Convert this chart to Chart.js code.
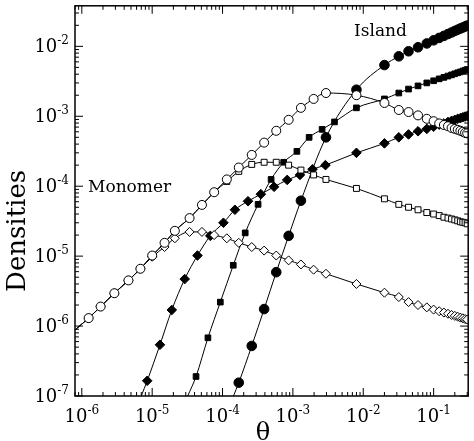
<!DOCTYPE html>
<html><head><meta charset="utf-8">
<script src="https://cdn.jsdelivr.net/npm/chart.js@4"></script>
<style>html,body{margin:0;padding:0;background:#fff}#w{width:474px;height:441px}</style>
</head><body><div id="w"><canvas id="c"></canvas></div>
<script>
const thetaLate=[8e-3,0.02,0.032,0.044,0.06,0.08,0.10,0.12,0.14,0.16,0.18,0.20,0.22,0.24,0.26,0.28,0.30];
const thetaMono=[8.2e-7,1.25e-6,1.85e-6,2.9e-6,4.6e-6,6.8e-6,1.0e-5,1.5e-5,2.1e-5,3.4e-5,5.1e-5,7.6e-5,1.15e-4,1.7e-4,2.6e-4,3.9e-4,5.8e-4,8.7e-4,1.3e-3,1.97e-3,2.95e-3];
const monoCircle=[9e-7,1.3e-6,1.9e-6,2.95e-6,4.5e-6,6.6e-6,1.02e-5,1.55e-5,2.3e-5,3.5e-5,5.4e-5,8.2e-5,1.25e-4,1.85e-4,2.8e-4,4.2e-4,6.2e-4,8.9e-4,1.32e-3,1.77e-3,2.15e-3,
 2.0e-3,1.55e-3,1.23e-3,1.15e-3,1.03e-3,9.2e-4,8.5e-4,7.9e-4,7.5e-4,7.2e-4,6.8e-4,6.6e-4,6.4e-4,6.2e-4,6.0e-4,5.8e-4,5.7e-4];
const monoSquare=[9e-7,1.3e-6,1.9e-6,2.95e-6,4.5e-6,6.6e-6,1.02e-5,1.55e-5,2.3e-5,3.5e-5,5.4e-5,8.2e-5,1.17e-4,1.63e-4,2.05e-4,2.2e-4,2.2e-4,2.0e-4,1.7e-4,1.45e-4,1.25e-4,
 9.3e-5,6.6e-5,5.5e-5,5.0e-5,4.6e-5,4.2e-5,4.0e-5,3.8e-5,3.6e-5,3.5e-5,3.4e-5,3.3e-5,3.2e-5,3.1e-5,3.05e-5,3.0e-5,2.9e-5];
const monoDiamond=[9e-7,1.3e-6,1.9e-6,2.95e-6,4.5e-6,6.6e-6,9.8e-6,1.35e-5,1.8e-5,2.22e-5,2.22e-5,2.0e-5,1.8e-5,1.55e-5,1.35e-5,1.2e-5,1.02e-5,8.7e-6,7.6e-6,6.4e-6,5.6e-6,
 4.0e-6,3.0e-6,2.6e-6,2.2e-6,2.0e-6,1.85e-6,1.72e-6,1.63e-6,1.56e-6,1.5e-6,1.44e-6,1.4e-6,1.36e-6,1.32e-6,1.29e-6,1.26e-6,1.24e-6];
const thetaIslCircle=[1.43e-4,1.7e-4,2.6e-4,3.9e-4,5.8e-4,8.7e-4,1.3e-3,2.95e-3];
const islCircle=[1e-7,1.55e-7,5.2e-7,1.75e-6,5.9e-6,1.95e-5,6.2e-5,5.0e-4,
 2.4e-3,5.4e-3,7.2e-3,8.5e-3,9.7e-3,1.1e-2,1.22e-2,1.32e-2,1.41e-2,1.5e-2,1.58e-2,1.66e-2,1.73e-2,1.8e-2,1.86e-2,1.92e-2,1.98e-2];
const thetaIslSquare=[3.2e-5,4.2e-5,6.2e-5,9.3e-5,1.42e-4,2.1e-4,3.2e-4,4.9e-4,7.4e-4,1.14e-3,1.7e-3,2.6e-3,3.9e-3];
const islSquare=[1e-7,1.9e-7,6.8e-7,2.2e-6,7.4e-6,2.15e-5,5.5e-5,1.25e-4,2.2e-4,3.15e-4,5.0e-4,6.5e-4,8.3e-4,
 1.32e-3,1.77e-3,2.15e-3,2.45e-3,2.72e-3,3.0e-3,3.22e-3,3.43e-3,3.6e-3,3.76e-3,3.91e-3,4.05e-3,4.19e-3,4.31e-3,4.43e-3,4.55e-3,4.66e-3];
const thetaIslDiamond=[7.0e-6,8.5e-6,1.29e-5,1.9e-5,2.9e-5,4.4e-5,6.7e-5,1.03e-4,1.5e-4,2.3e-4,3.5e-4,5.4e-4,8.3e-4,1.26e-3,1.9e-3,2.9e-3];
const islDiamond=[1e-7,1.65e-7,5.4e-7,1.7e-6,4.7e-6,1.02e-5,1.95e-5,3.0e-5,4.6e-5,6.1e-5,7.7e-5,9.8e-5,1.23e-4,1.45e-4,1.75e-4,2.0e-4,
 3.0e-4,4.1e-4,5.0e-4,5.5e-4,6.1e-4,6.6e-4,7.1e-4,7.6e-4,7.9e-4,8.3e-4,8.6e-4,8.9e-4,9.2e-4,9.4e-4,9.7e-4,9.9e-4,1.01e-3];
const xTickExp=[-6,-5,-4,-3,-2,-1];
const yTickExp=[-7,-6,-5,-4,-3,-2];

function pts(th,v){return th.concat(thetaLate).map((t,i)=>({x:t,y:v[i]}));}
function ds(th,v,style,r,fill){
  return {data:pts(th,v),pointStyle:style,borderColor:'#000',borderWidth:1,
    pointBackgroundColor:fill,pointBorderColor:'#000',pointBorderWidth:1,
    pointRadius:c=>(c.raw&&(c.raw.y<=1.0001e-7||c.raw.x<1e-6))?0:r,
    cubicInterpolationMode:'monotone',fill:false};
}
const F="'DejaVu Serif', serif";
const deco={id:'deco',afterDraw(ch){
  const {ctx,chartArea:a,scales:{x,y}}=ch;
  ctx.save();ctx.strokeStyle='#000';ctx.lineWidth=1.5;
  ctx.strokeRect(a.left,a.top,a.right-a.left,a.bottom-a.top);
  ctx.lineWidth=1;
  for(let e=-7;e<=0;e++)for(let m=1;m<10;m++){
    const v=m*Math.pow(10,e),L=m===1?8:4;
    if(v>=x.min&&v<=x.max){const p=x.getPixelForValue(v);
      ctx.beginPath();ctx.moveTo(p,a.bottom);ctx.lineTo(p,a.bottom-L);ctx.moveTo(p,a.top);ctx.lineTo(p,a.top+L);ctx.stroke();}
    if(v>=y.min&&v<=y.max){const p=y.getPixelForValue(v);
      ctx.beginPath();ctx.moveTo(a.left,p);ctx.lineTo(a.left+L,p);ctx.moveTo(a.right,p);ctx.lineTo(a.right-L,p);ctx.stroke();}
  }
  ctx.fillStyle='#000';ctx.textBaseline='alphabetic';
  function lab(e,cx,by,align){
    ctx.font='18px '+F;const w1=ctx.measureText('10').width;
    ctx.font='12px '+F;const s='-'+Math.abs(e);const w2=ctx.measureText(s).width;
    let x0=align==='right'?cx-w1-w2:cx-(w1+w2)/2;
    ctx.textAlign='left';ctx.font='18px '+F;ctx.fillText('10',x0,by);
    ctx.font='12px '+F;ctx.fillText(s,x0+w1,by-8);
  }
  xTickExp.forEach(e=>lab(e,x.getPixelForValue(Math.pow(10,e)),422,'center'));
  yTickExp.forEach(e=>lab(e,69,y.getPixelForValue(Math.pow(10,e))+6,'right'));
  ctx.textAlign='center';ctx.font='24px '+F;ctx.fillText('θ',x.getPixelForValue(1e-3)-30,440);
  ctx.save();ctx.translate(25,(a.top+a.bottom)/2+30);ctx.rotate(-Math.PI/2);ctx.font='26px '+F;ctx.fillText('Densities',0,0);ctx.restore();
  ctx.font='17px '+F;ctx.textAlign='left';
  ctx.fillText('Island',354,36);ctx.fillText('Monomer',88,192);
  ctx.restore();
}};
new Chart(document.getElementById('c'),{type:'line',
 data:{datasets:[
  ds(thetaMono,monoCircle,'circle',4.5,'#fff'),
  ds(thetaMono,monoSquare,'rect',4.2,'#fff'),
  ds(thetaMono,monoDiamond,'rectRot',4.5,'#fff'),
  ds(thetaIslCircle,islCircle,'circle',4.8,'#000'),
  ds(thetaIslSquare,islSquare,'rect',4,'#000'),
  ds(thetaIslDiamond,islDiamond,'rectRot',4.8,'#000')]},
 options:{responsive:true,maintainAspectRatio:false,animation:false,
  layout:{padding:{top:2,right:2,left:0,bottom:0}},
  plugins:{legend:{display:false},tooltip:{enabled:false}},
  scales:{
   x:{type:'logarithmic',min:8e-7,max:0.31,grid:{display:false},border:{display:false},
      ticks:{display:false},afterFit:s=>{s.height=45;}},
   y:{type:'logarithmic',min:1e-7,max:0.038,grid:{display:false},border:{display:false},
      ticks:{display:false},afterFit:s=>{s.width=75;}}
  }},
 plugins:[deco]});
</script></body></html>
